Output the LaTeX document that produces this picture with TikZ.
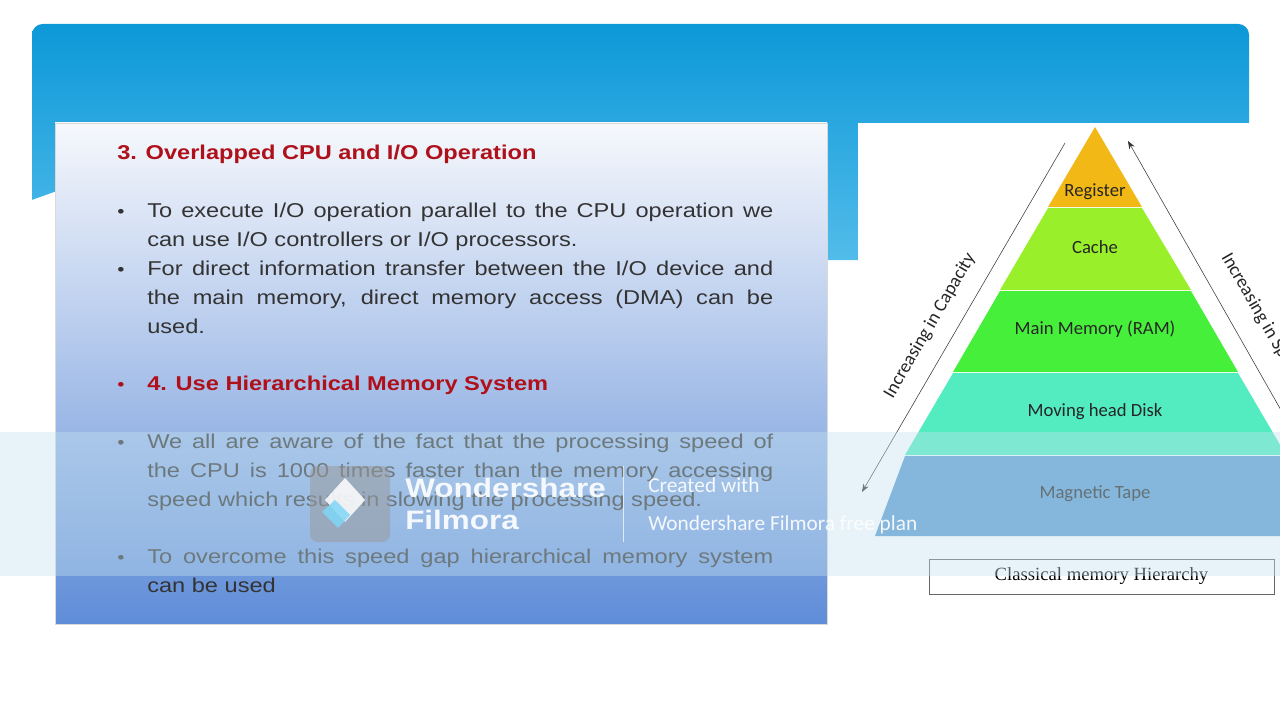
\documentclass[tikz,border=0pt]{standalone}
\usepackage{fontspec}
\setmainfont[FakeStretch=1.18]{Liberation Sans}
\newfontfamily\calib{Carlito}
\newfontfamily\serifx{Liberation Serif}
\usetikzlibrary{arrows.meta}
\definecolor{hdr}{HTML}{B0101A}
\definecolor{regc}{HTML}{F2B816}
\definecolor{cachec}{HTML}{99F02A}
\definecolor{mainc}{HTML}{46F03A}
\definecolor{diskc}{HTML}{52ECC0}
\definecolor{tapec}{HTML}{5B9BD0}
\definecolor{bluetop}{HTML}{0C98D8}
\definecolor{bluebot}{HTML}{52BCEA}
\definecolor{paneltop}{HTML}{F6F8FC}
\definecolor{panelbot}{HTML}{5F8DD8}
\definecolor{band}{HTML}{C4E2EE}
\tikzset{
 body/.style={anchor=north west,inner sep=0pt,text width=469.5pt,align=justify,font=\fontsize{15}{21.75}\selectfont,text=black!80},
 bul/.style={inner sep=0pt,font=\fontsize{13}{14}\selectfont,text=black!80},
 head/.style={anchor=north west,inner sep=0pt,font=\fontsize{15}{21.75}\selectfont\bfseries,text=hdr},
 lay/.style={font=\calib\fontsize{14}{16}\selectfont,text=black!85},
 lbl/.style={font=\calib\fontsize{14}{16}\selectfont,text=black!85},
 wm/.style={anchor=west,inner sep=0pt,text=white,opacity=0.9},
}
\begin{document}
\begin{tikzpicture}[x=0.75pt,y=-0.75pt]
\useasboundingbox (0,0) rectangle (1280,720);
\clip (0,0) rectangle (1280,720);
\fill[white] (0,0) rectangle (1280,720);
% blue header
\shade[top color=bluetop,bottom color=bluebot,rounded corners=8pt] (32,24) rectangle (1249,260);
\fill[white] (32,200) -- (60,190) -- (60,270) -- (32,270) -- cycle;
% text panel
\shade[top color=paneltop,bottom color=panelbot,draw=black!15] (55,123) rectangle (827,624);
% picture
\fill[white] (858,123) rectangle (1280,600);
% pyramid
\begin{scope}
\clip (858,123) rectangle (1280,600);
\fill[regc] (1095,127) -- (1142,207) -- (1048,207) -- cycle;
\fill[cachec] (1048,208) -- (1142,208) -- (1191,290) -- (1000,290) -- cycle;
\fill[mainc] (1000,291) -- (1191,291) -- (1238,372) -- (953,372) -- cycle;
\fill[diskc] (953,373) -- (1238,373) -- (1286,455) -- (905,455) -- cycle;
\fill[tapec] (905,456) -- (1286,456) -- (1334,536) -- (875,536) -- cycle;
\node[lay] (reg) at (1095,192) {Register};
\node[lay] (cac) at (1095,247) {Cache};
\node[lay] (mm) at (1095,329) {Main Memory (RAM)};
\node[lay] (mhd) at (1095,412) {Moving head Disk};
\node[lay] (mt) at (1095,494) {Magnetic Tape};
\coordinate (la) at (1065,143);
\coordinate (lb) at (862,492);
\coordinate (ra) at (1290,426);
\coordinate (rb) at (1128,141);
\draw[-{Stealth[length=6pt]},black!80] (la) -- (lb);
\draw[-{Stealth[length=6pt]},black!80] (ra) -- (rb);
\node[lbl,rotate=59.8] (cap) at (930,326) {Increasing in Capacity};
\node[lbl,rotate=-60] (spd) at (1262,318) {Increasing in Speed};
\end{scope}
\node[draw=black!60,minimum width=258.75pt,minimum height=26.25pt,inner sep=0pt,font=\serifx\fontsize{14}{16}\selectfont] (capt) at (1101.5,576.5) {Classical memory Hierarchy};
% text
\node[head] (h3) at (117,145) {3. Overlapped CPU and I/O Operation};
\node[bul] (b1) at (121,213) {•};
\node[body] (t1) at (147,203) {To execute I/O operation parallel to the CPU operation we\linebreak can use I/O controllers or I/O processors.};
\node[bul] (b2) at (121,271) {•};
\node[body] (t2) at (147,261) {For direct information transfer between the I/O device and\linebreak the main memory, direct memory access (DMA) can be\linebreak used.};
\node[bul,text=hdr] (b4) at (121,386) {•};
\node[head] (h4) at (147,376) {4. Use Hierarchical Memory System};
\node[bul] (b3) at (121,444) {•};
\node[body] (t3) at (147,434) {We all are aware of the fact that the processing speed of\linebreak the CPU is 1000 times faster than the memory accessing\linebreak speed which results in slowing the processing speed.};
\node[bul] (b5) at (121,559) {•};
\node[body] (t5) at (147,549) {To overcome this speed gap hierarchical memory system\linebreak can be used};
% watermark
\fill[band,opacity=0.4] (0,432) rectangle (1280,576);
\fill[black!40,opacity=0.5,rounded corners=6pt] (310,466) rectangle (390,542);
\fill[white,opacity=0.85] (345,478) -- (365,500) -- (345,522) -- (325,500) -- cycle;
\fill[cyan!50,opacity=0.85] (335,500) -- (350,515) -- (338,528) -- (322,512) -- cycle;
\node[wm,font=\fontsize{20}{24}\selectfont\bfseries] (wm1) at (405,488) {Wondershare};
\node[wm,font=\fontsize{20}{24}\selectfont\bfseries] (wm2) at (405,520) {Filmora};
\draw[white,opacity=0.7] (623,466) -- (623,542);
\node[wm,font=\calib\fontsize{16}{18}\selectfont] (wm3) at (648,485) {Created with};
\node[wm,font=\calib\fontsize{16}{18}\selectfont] (wm4) at (648,525) {Wondershare Filmora free plan};
\end{tikzpicture}
\end{document}
